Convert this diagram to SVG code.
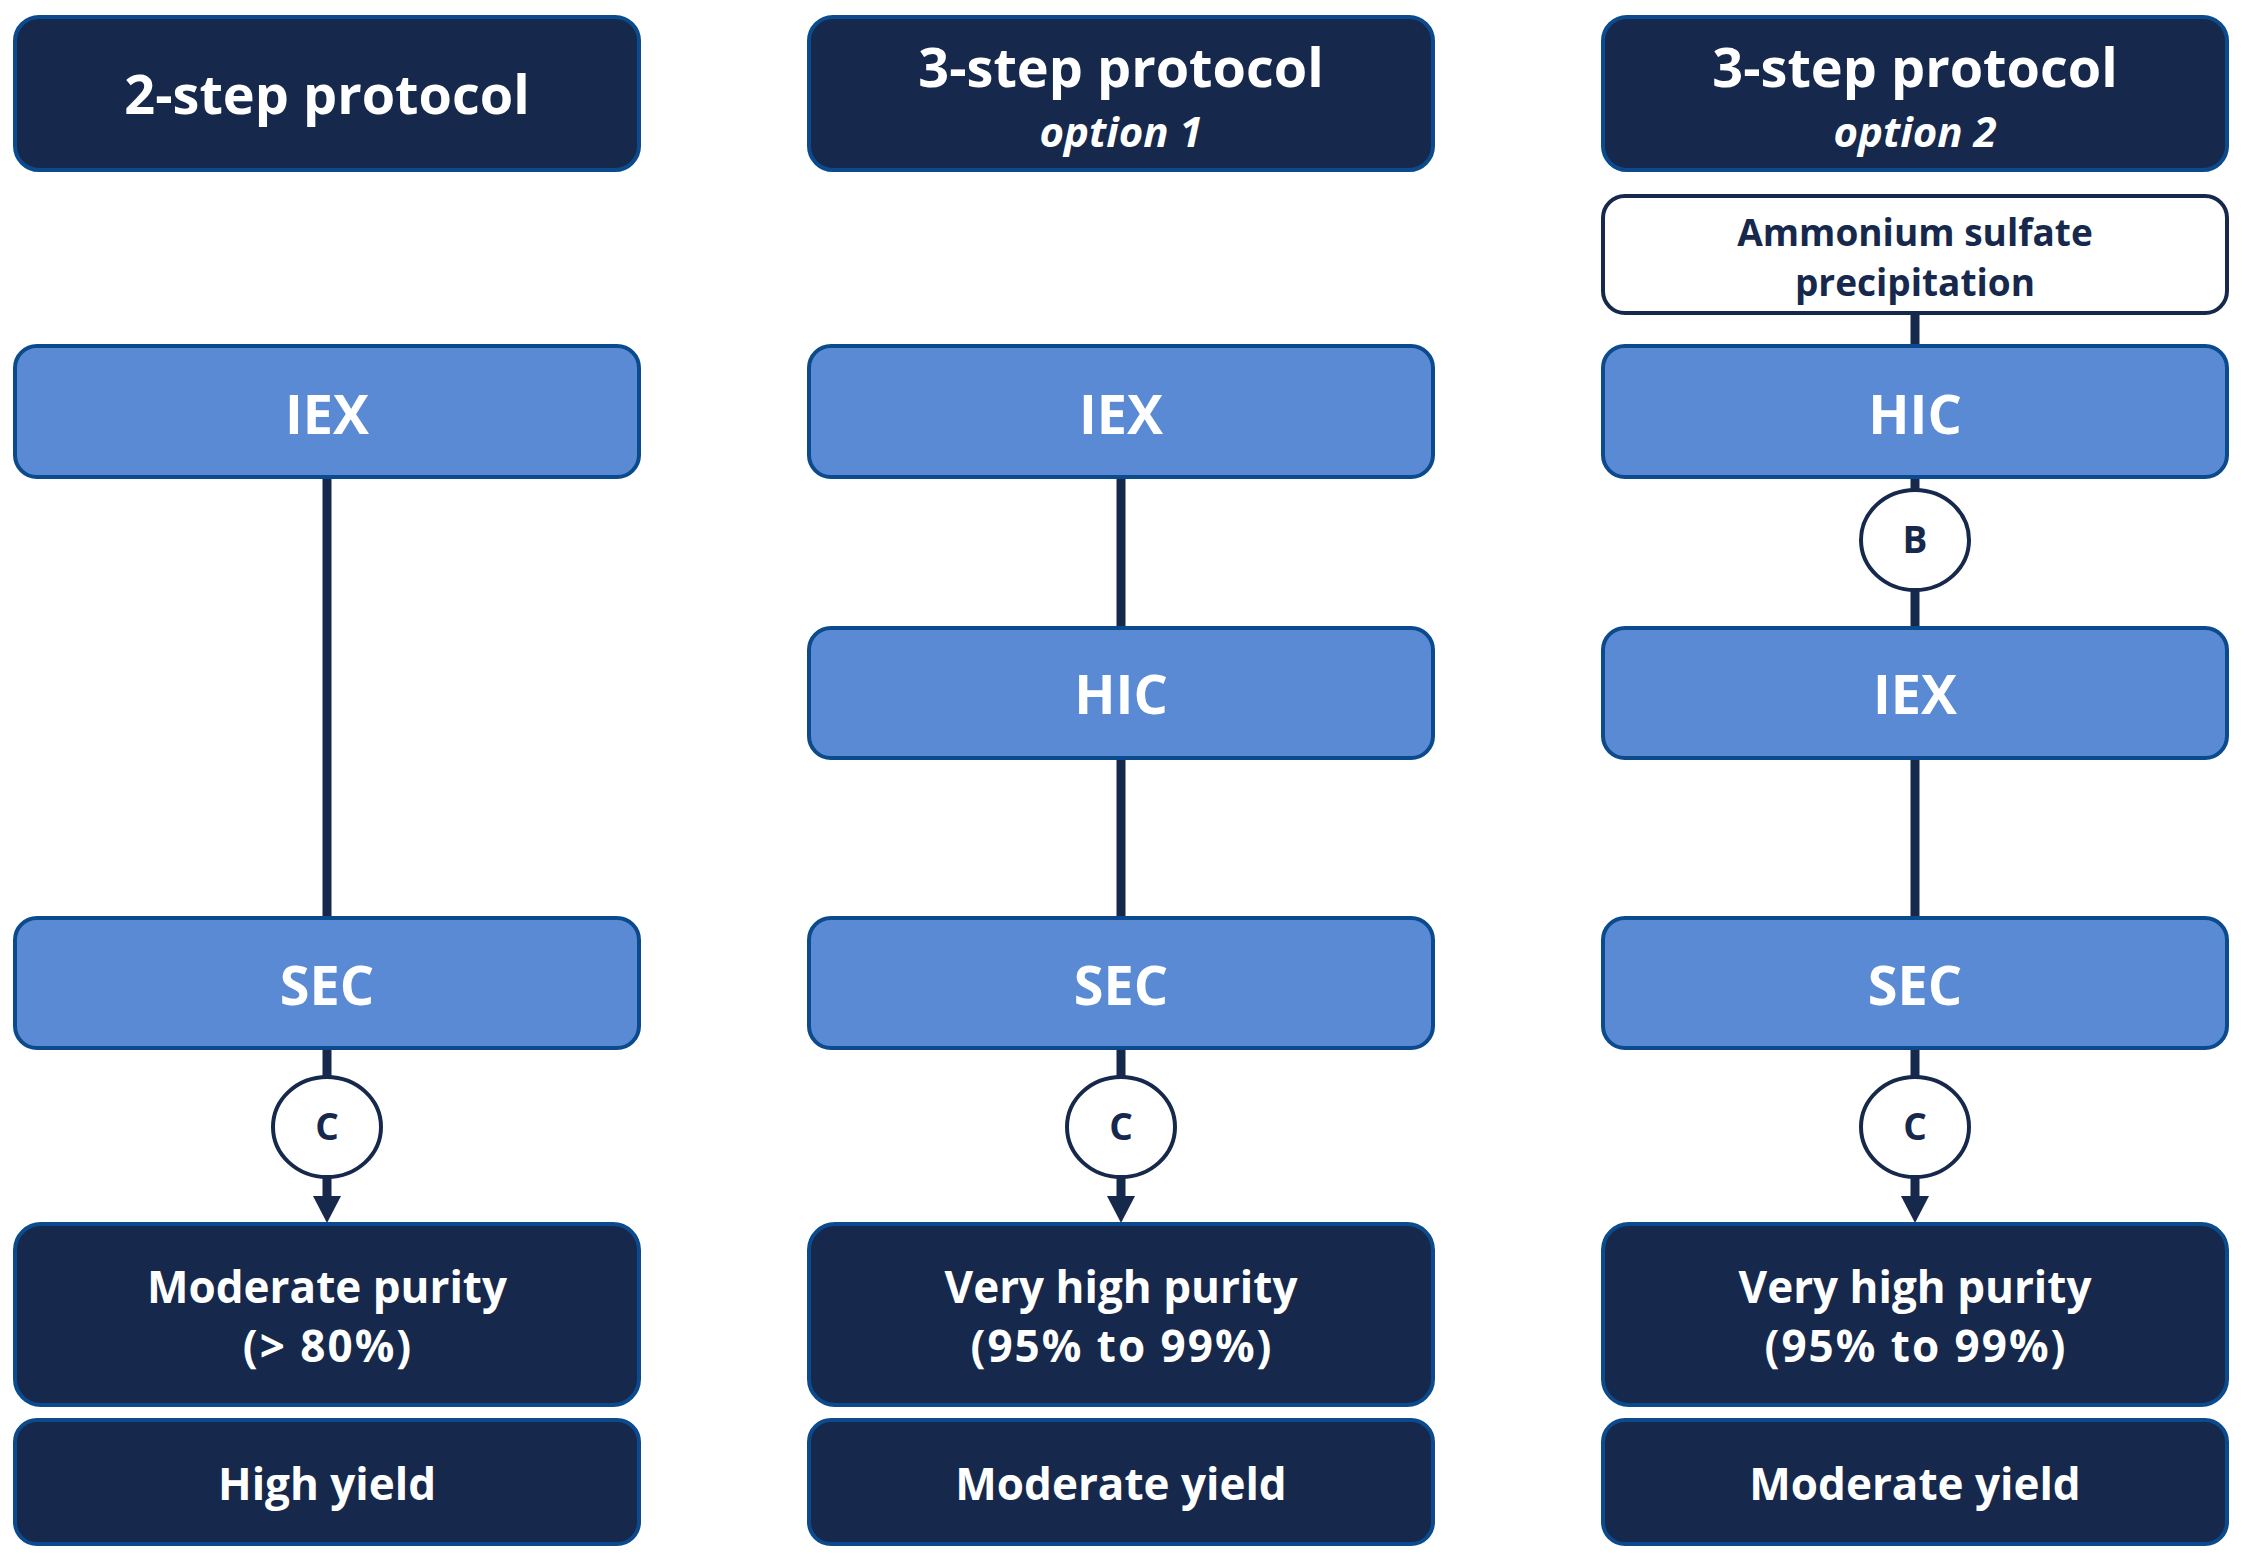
<svg xmlns="http://www.w3.org/2000/svg" width="2249" height="1555" viewBox="0 0 2249 1555">
<style>
text{font-family:"Open Sans","Noto Sans","Liberation Sans",sans-serif;font-weight:700;text-anchor:middle}
.dark{fill:#16294c;stroke:#0b4a8c;stroke-width:4}
.light{fill:#5a8ad4;stroke:#0b4a8c;stroke-width:4}
.white{fill:#ffffff;stroke:#16294c;stroke-width:4}
.circ{fill:#ffffff;stroke:#16294c;stroke-width:4}
.wt{fill:#ffffff}
.nt{fill:#16294c}
.h{font-size:54px}
.opt{font-size:42px;font-style:italic}
.step{font-size:54px}
.res{font-size:44px}
.pct{letter-spacing:2px}
.amm{font-size:37px}
.lbl{font-size:37px}
.conn line{stroke:#16294c;stroke-width:9}
.conn polygon{fill:#16294c}
</style>
<rect width="2249" height="1555" fill="#ffffff"/>
<g id="connectors" class="conn">
<line x1="327" y1="477" x2="327" y2="918"/>
<line x1="327" y1="1048" x2="327" y2="1198"/>
<polygon points="313,1196 341,1196 327,1223"/>
<line x1="1121" y1="477" x2="1121" y2="628"/>
<line x1="1121" y1="758" x2="1121" y2="918"/>
<line x1="1121" y1="1048" x2="1121" y2="1198"/>
<polygon points="1107,1196 1135,1196 1121,1223"/>
<line x1="1915" y1="313" x2="1915" y2="347"/>
<line x1="1915" y1="477" x2="1915" y2="628"/>
<line x1="1915" y1="758" x2="1915" y2="918"/>
<line x1="1915" y1="1048" x2="1915" y2="1198"/>
<polygon points="1901,1196 1929,1196 1915,1223"/>
</g>
<g id="header1"><rect class="dark" x="15" y="17" width="624" height="153" rx="24"/><text class="wt h" x="327" y="114">2-step protocol</text></g>
<g id="header2"><rect class="dark" x="809" y="17" width="624" height="153" rx="24"/><text class="wt h" x="1121" y="87">3-step protocol</text><text class="wt opt" x="1121" y="147">option 1</text></g>
<g id="header3"><rect class="dark" x="1603" y="17" width="624" height="153" rx="24"/><text class="wt h" x="1915" y="87">3-step protocol</text><text class="wt opt" x="1915" y="147">option 2</text></g>
<g id="ammonium"><rect class="white" x="1603" y="196" width="624" height="117" rx="22"/><text class="nt amm" x="1915" y="246">Ammonium sulfate</text><text class="nt amm" x="1915" y="296">precipitation</text></g>
<g id="iex1"><rect class="light" x="15" y="346" width="624" height="131" rx="22"/><text class="wt step" x="327" y="434">IEX</text></g>
<g id="iex2"><rect class="light" x="809" y="346" width="624" height="131" rx="22"/><text class="wt step" x="1121" y="434">IEX</text></g>
<g id="hic3"><rect class="light" x="1603" y="346" width="624" height="131" rx="22"/><text class="wt step" x="1915" y="434">HIC</text></g>
<g id="hic2"><rect class="light" x="809" y="628" width="624" height="130" rx="22"/><text class="wt step" x="1121" y="714">HIC</text></g>
<g id="iex3"><rect class="light" x="1603" y="628" width="624" height="130" rx="22"/><text class="wt step" x="1915" y="714">IEX</text></g>
<g id="sec1"><rect class="light" x="15" y="918" width="624" height="130" rx="22"/><text class="wt step" x="327" y="1005">SEC</text></g>
<g id="sec2"><rect class="light" x="809" y="918" width="624" height="130" rx="22"/><text class="wt step" x="1121" y="1005">SEC</text></g>
<g id="sec3"><rect class="light" x="1603" y="918" width="624" height="130" rx="22"/><text class="wt step" x="1915" y="1005">SEC</text></g>
<g id="circleB"><ellipse class="circ" cx="1915" cy="540" rx="54" ry="50"/><text class="nt lbl" x="1915" y="553">B</text></g>
<g id="circleC1"><ellipse class="circ" cx="327" cy="1127" rx="54" ry="50"/><text class="nt lbl" x="327" y="1140">C</text></g>
<g id="circleC2"><ellipse class="circ" cx="1121" cy="1127" rx="54" ry="50"/><text class="nt lbl" x="1121" y="1140">C</text></g>
<g id="circleC3"><ellipse class="circ" cx="1915" cy="1127" rx="54" ry="50"/><text class="nt lbl" x="1915" y="1140">C</text></g>
<g id="result1"><rect class="dark" x="15" y="1224" width="624" height="181" rx="26"/><text class="wt res" x="327" y="1303">Moderate purity</text><text class="wt res pct" x="328" y="1362">(&gt; 80%)</text></g>
<g id="result2"><rect class="dark" x="809" y="1224" width="624" height="181" rx="26"/><text class="wt res" x="1121" y="1303">Very high purity</text><text class="wt res pct" x="1122" y="1362">(95% to 99%)</text></g>
<g id="result3"><rect class="dark" x="1603" y="1224" width="624" height="181" rx="26"/><text class="wt res" x="1915" y="1303">Very high purity</text><text class="wt res pct" x="1916" y="1362">(95% to 99%)</text></g>
<g id="yield1"><rect class="dark" x="15" y="1420" width="624" height="124" rx="22"/><text class="wt res" x="327" y="1500">High yield</text></g>
<g id="yield2"><rect class="dark" x="809" y="1420" width="624" height="124" rx="22"/><text class="wt res" x="1121" y="1500">Moderate yield</text></g>
<g id="yield3"><rect class="dark" x="1603" y="1420" width="624" height="124" rx="22"/><text class="wt res" x="1915" y="1500">Moderate yield</text></g>
</svg>
